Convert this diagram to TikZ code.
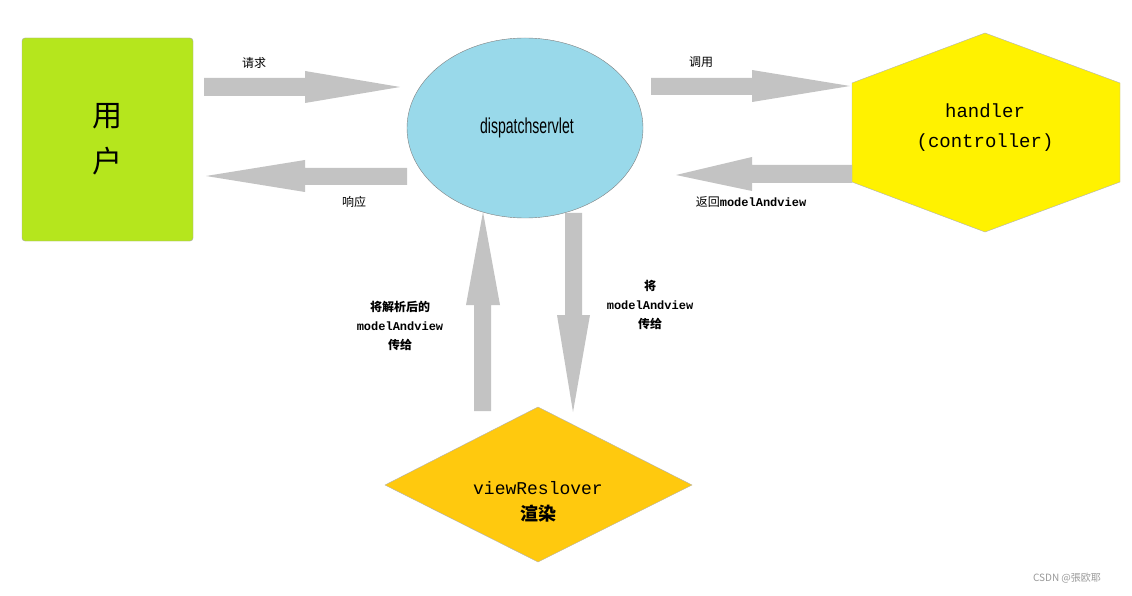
\documentclass[tikz,border=0pt]{standalone}
\usepackage{fontspec}
\usepackage{graphicx}
\newfontfamily\cjk{Noto Sans CJK SC}
\newfontfamily\mono{Liberation Mono}
\setmainfont{Liberation Sans}
\definecolor{ugreen}{HTML}{B5E61D}
\definecolor{ublue}{HTML}{99D9EA}
\definecolor{uyellow}{HTML}{FFF200}
\definecolor{uorange}{HTML}{FFC90E}
\definecolor{ugray}{HTML}{C3C3C3}
\tikzset{
  lbl/.style={font=\cjk\fontsize{12}{14}\selectfont, inner sep=0pt},
  mlbl/.style={font=\mono\bfseries\fontsize{12}{16}\selectfont, inner sep=0pt, align=center},
  arr/.style={fill=ugray, draw=none}
}
\begin{document}
\begin{tikzpicture}[x=1pt,y=-1pt]
\useasboundingbox (0,0) rectangle (1132,596);
\fill[white] (0,0) rectangle (1132,596);
% user
\draw[draw=gray!70, fill=ugreen, rounded corners=3pt] (22,38) rectangle (193,241);
\node (user) at (107,139) [font=\cjk\fontsize{30}{46}\selectfont, align=center] {用\\户};
% dispatcher
\draw[fill=ublue, draw=gray] (525,128) ellipse [x radius=118, y radius=90];
\node (ds) at (527,128) {\fontsize{18}{20}\selectfont\scalebox{0.78}[1.2]{dispatchservlet}};
% handler hexagon
\draw[fill=uyellow, draw=gray!60] (852,83) -- (985,33) -- (1120,83) -- (1120,182) -- (985,232) -- (852,182) -- cycle;
\node (h) at (985,128) [font=\mono\fontsize{19}{30}\selectfont, align=center] {handler\\(controller)};
% diamond
\draw[fill=uorange, draw=gray!60] (385,485) -- (538,407) -- (692,485) -- (538,562) -- cycle;
\node (v) at (538,502) [font=\mono\fontsize{18}{26}\selectfont, align=center] {viewReslover\\{\cjk\bfseries 渲染}};
% arrows
\fill[arr] (204,78) -- (305,78) -- (305,71) -- (400,87) -- (305,103) -- (305,96) -- (204,96) -- cycle;
\fill[arr] (407,168) -- (305,168) -- (305,160) -- (206,176) -- (305,192) -- (305,185) -- (407,185) -- cycle;
\fill[arr] (651,78) -- (752,78) -- (752,70) -- (850,86) -- (752,102) -- (752,95) -- (651,95) -- cycle;
\fill[arr] (852,165) -- (752,165) -- (752,157) -- (676,175) -- (752,191) -- (752,183) -- (852,183) -- cycle;
\fill[arr] (474,411) -- (474,305) -- (466,305) -- (483,212) -- (500,305) -- (491,305) -- (491,411) -- cycle;
\fill[arr] (565,213) -- (582,213) -- (582,315) -- (590,315) -- (573,412) -- (557,315) -- (565,315) -- cycle;
% labels
\node[lbl] (l1) at (254,63) {请求};
\node[lbl] (l2) at (354,202) {响应};
\node[lbl] (l3) at (701,62) {调用};
\node[lbl] (l4) at (751,202) {返回{\mono\bfseries modelAndview}};
\node[mlbl] (l5) at (400,326) {{\cjk 将解析后的}\\[3pt]modelAndview\\[3pt]{\cjk 传给}};
\node[mlbl] (l6) at (650,305) {{\cjk 将}\\[3pt]modelAndview\\[3pt]{\cjk 传给}};
\node (wm) at (1067,578) [font=\cjk\fontsize{10}{12}\selectfont, text=gray!80] {CSDN @張欧耶};
\end{tikzpicture}
\end{document}
